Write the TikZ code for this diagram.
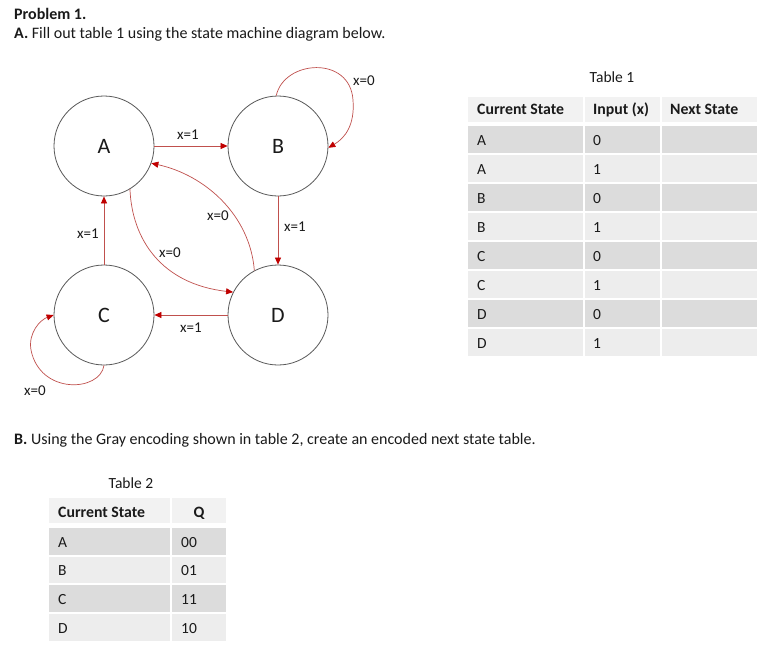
\documentclass[tikz,border=0pt]{standalone}
\usepackage{fontspec}
\setmainfont{Carlito}
\usetikzlibrary{arrows.meta}
\definecolor{edgecol}{HTML}{C0504D}
\definecolor{tipcol}{HTML}{C00000}
\definecolor{circcol}{HTML}{595959}
\definecolor{hdrfill}{HTML}{F2F2F2}
\definecolor{darkrow}{HTML}{DCDCDC}
\definecolor{lightrow}{HTML}{EDEDED}
\definecolor{txt}{HTML}{1A1A1A}
\tikzset{
  state/.style={circle, draw=circcol, line width=0.8pt, minimum size=100pt, inner sep=0pt, font=\fontsize{22}{26}\selectfont, text=txt},
  trans/.style={draw=edgecol, line width=0.7pt, -{Triangle[length=7pt,width=6pt,fill=tipcol,color=tipcol]}},
  elabel/.style={font=\fontsize{15}{18}\selectfont, text=txt, inner sep=0pt},
  heading/.style={anchor=base west, inner sep=0pt, font=\fontsize{16}{19}\selectfont, text=txt},
  ttitle/.style={anchor=base, inner sep=0pt, font=\fontsize{15.5}{18}\selectfont, text=txt},
  cell/.style={anchor=base west, inner sep=0pt, font=\fontsize{15.5}{18}\selectfont, text=txt},
  hcell/.style={anchor=base west, inner sep=0pt, font=\fontsize{15.8}{18}\selectfont\bfseries, text=txt},
}
\begin{document}
\begin{tikzpicture}[x=1pt,y=-1pt]
\useasboundingbox (0,0) rectangle (765,667);
\fill[white] (0,0) rectangle (765,667);

% headings
\node[heading] (h1) at (14,19) {\textbf{Problem 1.}};
\node[heading] (h2) at (14,38) {\textbf{A.} Fill out table 1 using the state machine diagram below.};
\node[heading] (h3) at (14,444) {\textbf{B.} Using the Gray encoding shown in table 2, create an encoded next state table.};

% states
\node[state] (A) at (104,146) {A};
\node[state] (B) at (278,146) {B};
\node[state] (C) at (104,315) {C};
\node[state] (D) at (278,315) {D};

% transitions
\draw[trans] (A.east) -- (B.west);
\node[elabel] (lab1) at (188,135) {x=1};
\draw[trans] (B.south) -- (D.north);
\node[elabel] (lab2) at (295,227) {x=1};
\draw[trans] (D.west) -- (C.east);
\node[elabel] (lab3) at (191,328) {x=1};
\draw[trans] (C.north) -- (A.south);
\node[elabel] (lab4) at (88,234) {x=1};

\draw[trans] (A.-59) .. controls (132,240) and (162,284) .. (D.153);
\node[elabel] (lab5) at (170,253) {x=0};
\draw[trans] (D.118) .. controls (250,215) and (205,175) .. (A.-20);
\node[elabel] (lab6) at (218,216) {x=0};

\draw[trans] (B.92) .. controls (284,60) and (350,55) .. (353,100) .. controls (355,125) and (345,138) .. (B.-2);
\node[elabel] (lab7) at (364,81) {x=0};
\draw[trans] (C.-90) .. controls (100,392) and (40,395) .. (31,350) .. controls (28,333) and (40,320) .. (C.180);
\node[elabel] (lab8) at (35,391) {x=0};

% Table 1
\node[ttitle] (t1) at (612,82) {Table 1};
\fill[hdrfill] (468,97) rectangle (583,122);
\fill[hdrfill] (585,97) rectangle (660,122);
\fill[hdrfill] (662,97) rectangle (757,122);
\node[hcell] (t1h1) at (477,114) {Current State};
\node[hcell] (t1h2) at (593,114) {Input (x)};
\node[hcell] (t1h3) at (670,114) {Next State};
\foreach \i/\s/\v in {0/A/0,1/A/1,2/B/0,3/B/1,4/C/0,5/C/1,6/D/0,7/D/1}{
  \pgfmathsetmacro{\top}{126+29*\i}
  \pgfmathtruncatemacro{\odd}{mod(\i,2)}
  \ifnum\odd=0 \def\rc{darkrow}\else\def\rc{lightrow}\fi
  \fill[\rc] (468,\top) rectangle (583,\top+27);
  \fill[\rc] (585,\top) rectangle (660,\top+27);
  \fill[\rc] (662,\top) rectangle (757,\top+27);
  \node[cell] (t1s\i) at (477,\top+19) {\s};
  \node[cell] (t1v\i) at (593,\top+19) {\v};
}

% Table 2
\node[ttitle] (t2) at (131,488) {Table 2};
\fill[hdrfill] (49,498) rectangle (170,523);
\fill[hdrfill] (172,498) rectangle (226,523);
\node[hcell] (t2h1) at (58,517) {Current State};
\node[hcell, anchor=base] (t2h2) at (199,517) {Q};
\foreach \i/\s/\v in {0/A/00,1/B/01,2/C/11,3/D/10}{
  \pgfmathsetmacro{\top}{528+28.7*\i}
  \pgfmathtruncatemacro{\odd}{mod(\i,2)}
  \ifnum\odd=0 \def\rc{darkrow}\else\def\rc{lightrow}\fi
  \fill[\rc] (49,\top) rectangle (170,\top+26.5);
  \fill[\rc] (172,\top) rectangle (226,\top+26.5);
  \node[cell] (t2s\i) at (58,\top+19) {\s};
  \node[cell] (t2v\i) at (181,\top+19) {\v};
}
\end{tikzpicture}
\end{document}
